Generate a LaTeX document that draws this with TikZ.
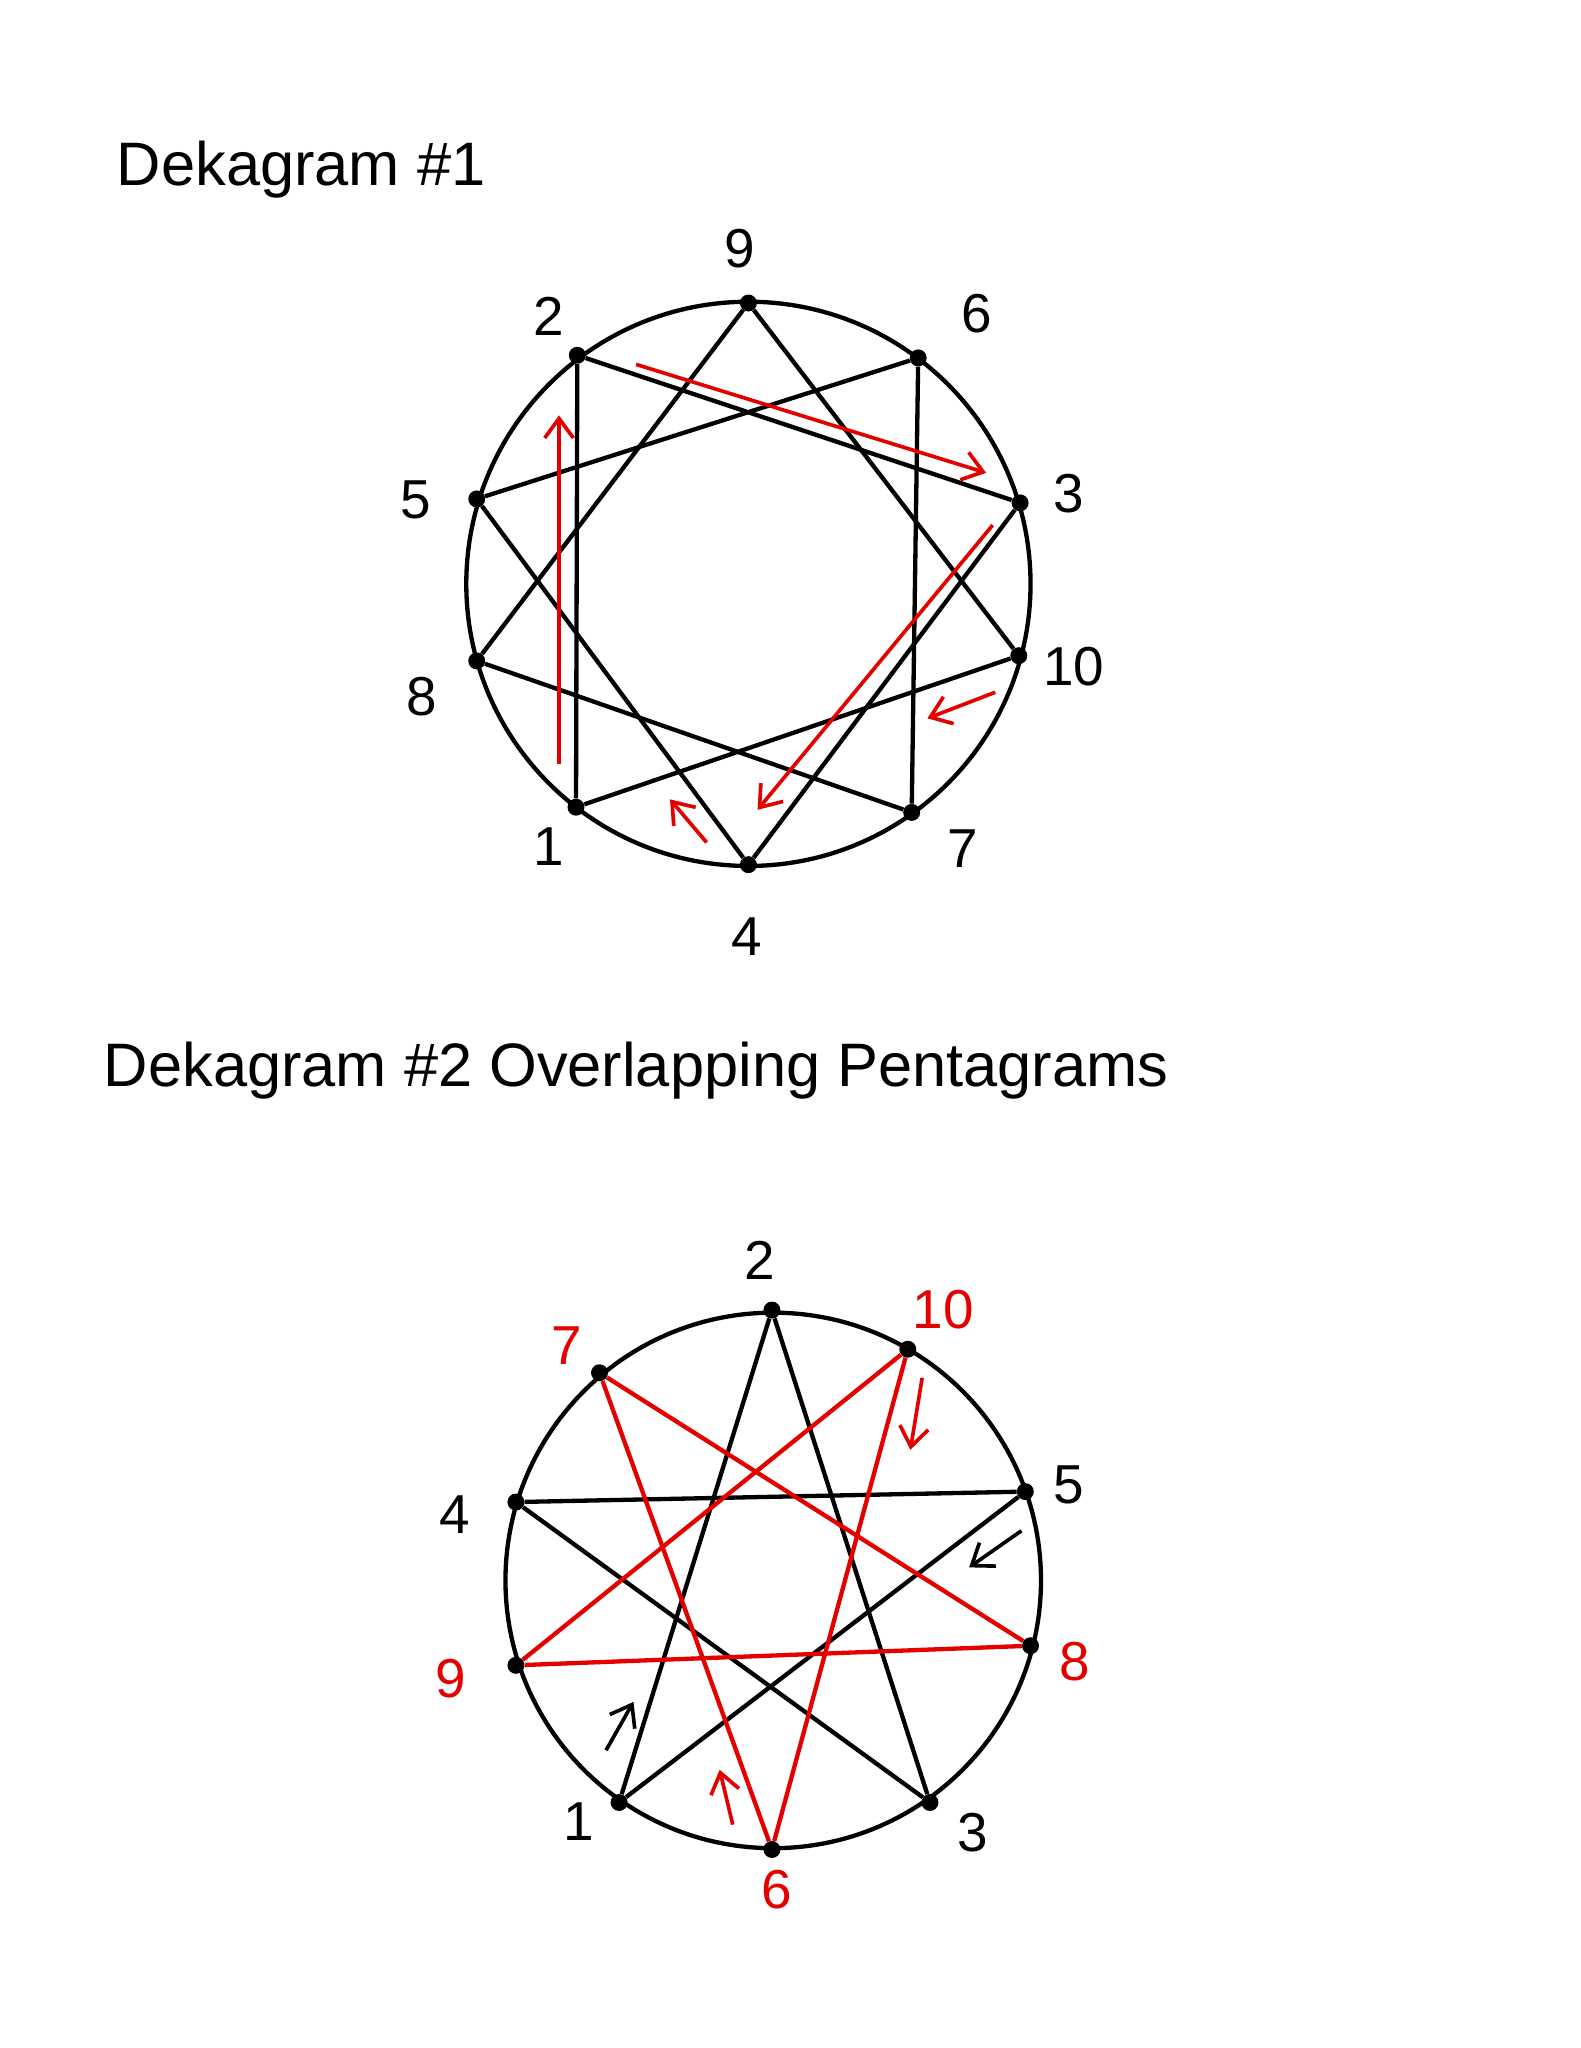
\documentclass[tikz,border=0pt]{standalone}
\usepackage{fontspec}
\setmainfont{Liberation Sans}
\usetikzlibrary{arrows.meta}
\begin{document}
\begin{tikzpicture}[x=1pt,y=-1pt,
  dot/.style={circle,fill=black,inner sep=0pt,minimum size=13pt},
  edge/.style={line width=3.3pt,black},
  redge/.style={line width=3.3pt,red!90!black},
  rarrow/.style={line width=2.8pt,red!90!black,-{Straight Barb[length=15pt,width=22pt]}},
  barrow/.style={line width=2.8pt,black,-{Straight Barb[length=15pt,width=22pt]}},
  lab/.style={font=\fontsize{42}{46}\selectfont},
  rlab/.style={font=\fontsize{42}{46}\selectfont,text=red!90!black},
  title/.style={font=\fontsize{47}{54}\selectfont,anchor=west}]
\useasboundingbox[fill=white] (0,0) rectangle (1210,1568);
\node[title] (t1) at (86,130) {Dekagram \#1};
\node[title] (t2) at (76,820) {Dekagram \#2 Overlapping Pentagrams};
% diagram 1
\node[circle,draw,line width=3.3pt,minimum size=432pt] (c1) at (573,447) {};
\foreach \n/\x/\y in {9/573/232,6/703/274,3/781/385,10/780/502,7/698/622,4/573/662,1/441/618,8/365/506,5/365/382,2/442/272}
  \node[dot] (a\n) at (\x,\y) {};
\foreach \p/\q in {1/2,2/3,3/4,4/5,5/6,6/7,7/8,8/9,9/10,10/1}
  \draw[edge] (a\p) -- (a\q);
\coordinate (r1s) at (428,585); \coordinate (r1e) at (428,318);
\coordinate (r2s) at (487,279); \coordinate (r2e) at (755,362);
\coordinate (r3s) at (760,402); \coordinate (r3e) at (580,620);
\coordinate (r4s) at (762,530); \coordinate (r4e) at (710,550);
\coordinate (r5s) at (541,645); \coordinate (r5e) at (513,612);
\foreach \i in {1,...,5} \draw[rarrow] (r\i s) -- (r\i e);
\foreach \n/\x/\y in {9/566/190,2/420/242,6/748/240,5/318/383,3/818/378,10/822/510,8/323/533,7/737/650,1/420/648,4/572/717}
  \node[lab] (l\n) at (\x,\y) {\n};
% diagram 2
\node[circle,draw,line width=3.3pt,minimum size=410pt] (c2) at (592,1210) {};
\foreach \n/\x/\y in {2/591/1003,10/695/1033,5/785/1142,8/789/1260,3/712/1380,6/591/1416,1/474/1380,9/395/1275,4/395/1150,7/459/1051}
  \node[dot] (b\n) at (\x,\y) {};
\foreach \p/\q in {1/2,2/3,3/4,4/5,5/1}
  \draw[edge] (b\p) -- (b\q);
\foreach \p/\q in {6/7,7/8,8/9,9/10,10/6}
  \draw[redge] (b\p) -- (b\q);
\coordinate (s1s) at (782,1172); \coordinate (s1e) at (742,1200);
\coordinate (s2s) at (464,1340); \coordinate (s2e) at (485,1303);
\coordinate (s3s) at (706,1055); \coordinate (s3e) at (697,1110);
\coordinate (s4s) at (561,1397); \coordinate (s4e) at (551,1355);
\draw[barrow] (s1s) -- (s1e);
\draw[barrow] (s2s) -- (s2e);
\draw[rarrow] (s3s) -- (s3e);
\draw[rarrow] (s4s) -- (s4e);
\foreach \n/\x/\y in {2/582/965,4/348/1160,5/818/1137,1/443/1395,3/745/1403}
  \node[lab] (m\n) at (\x,\y) {\n};
\foreach \n/\x/\y in {10/722/1003,7/434/1030,9/345/1285,8/823/1272,6/595/1447}
  \node[rlab] (m\n) at (\x,\y) {\n};
\end{tikzpicture}
\end{document}
